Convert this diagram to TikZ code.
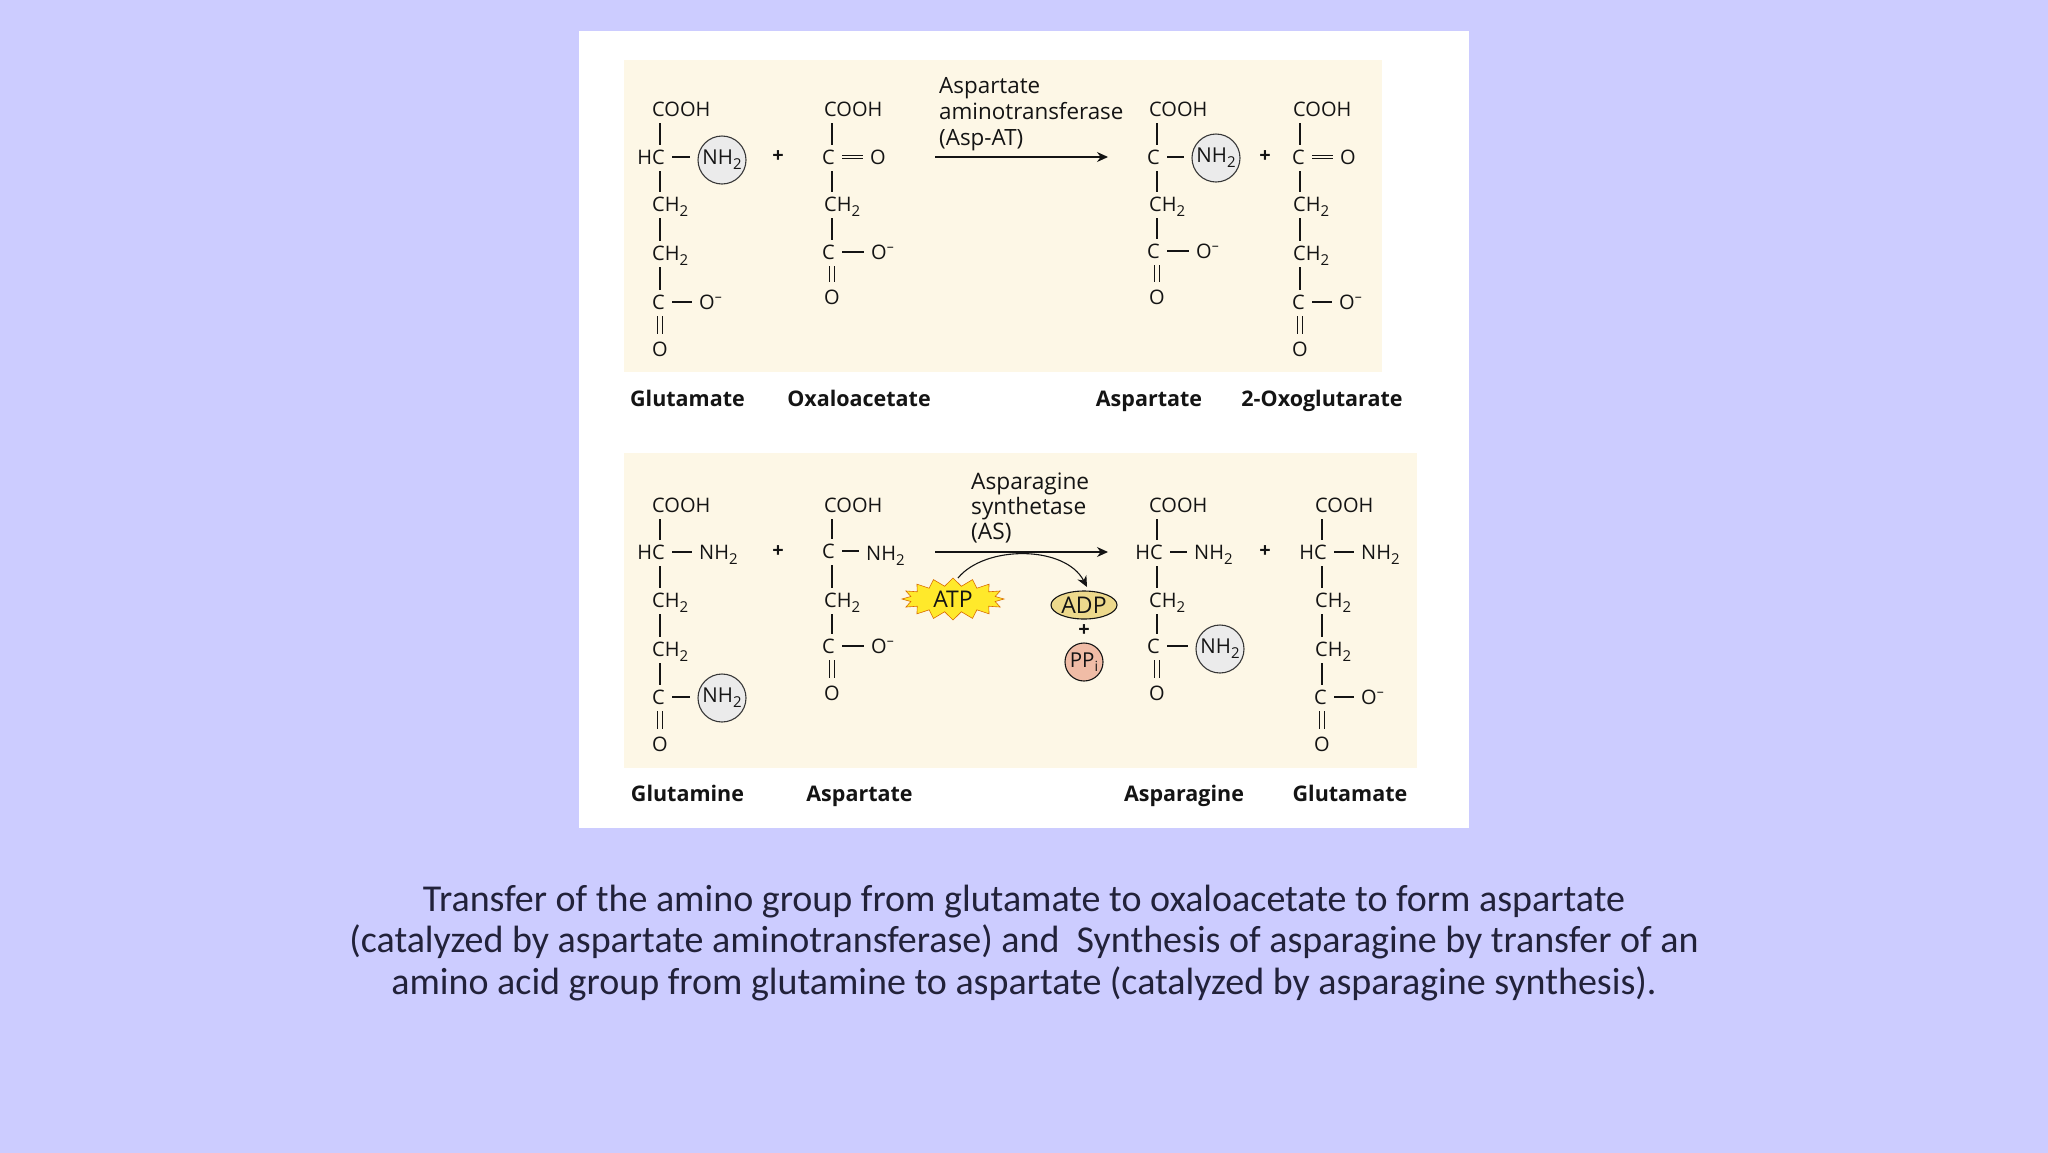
\documentclass[tikz,border=0pt]{standalone}
\usepackage{fontspec}
\setmainfont{Open Sans}
\newfontfamily\capfont{Carlito}
\usetikzlibrary{shapes.geometric,shapes.symbols,arrows.meta,positioning}

\definecolor{slide}{HTML}{CCCCFF}
\definecolor{cream}{HTML}{FDF7E6}
\definecolor{ink}{HTML}{141414}
\definecolor{capink}{HTML}{22223A}
\definecolor{adpfill}{HTML}{EDD98C}
\definecolor{ppifill}{HTML}{F0BCA6}
\definecolor{atpfill}{HTML}{FFE92B}

\tikzset{
	atom/.style={inner sep=0pt, text=ink, font=\fontsize{20}{22}\selectfont, text height=14pt, text depth=0pt},
	atomw/.style={atom, anchor=west},
	atome/.style={atom, anchor=east},
	name label/.style={inner sep=0pt, text=ink, font=\fontsize{21.5}{24}\selectfont\bfseries, text height=15pt, text depth=5pt},
	enzyme/.style={inner sep=0pt, anchor=west, align=left, text=ink, font=\fontsize{22.4}{25.8}\selectfont},
	bond/.style={draw=ink, line width=1.1pt, shorten <=7pt, shorten >=5pt},
	hbond/.style={draw=ink, line width=1.1pt, shorten <=7pt, shorten >=7pt},
	hdouble/.style={hbond, double=cream, double distance=2.6pt, line width=1pt},
	vdouble/.style={draw=ink, line width=1.1pt, shorten <=7pt, shorten >=8pt},
	amino/.style={circle, draw=ink!85, line width=1.1pt, fill=black!8, inner sep=-4pt, minimum size=48pt, text=ink, font=\fontsize{20.5}{22}\selectfont, text height=14pt, text depth=6pt},
	plus/.style={inner sep=0pt, text=ink, font=\fontsize{20}{22}\selectfont\bfseries},
	react/.style={draw=ink, line width=1.1pt, -{Stealth[length=11pt,width=10pt]}}
}

\newcommand{\subtwo}{\raisebox{-5pt}{\fontsize{15}{15}\selectfont 2}}
\newcommand{\Ctwo}{CH\subtwo}
\newcommand{\Ntwo}{NH\subtwo}
\newcommand{\Ominus}{O\textsuperscript{–}}
\newcommand{\vbonds}[2]{\foreach \a/\b in {#2} \draw[bond] (#1\a.south -| #1x) -- (#1\b.north -| #1x);}
\newcommand{\vdbond}[3]{\foreach \s in {-2.3pt,2.3pt} \draw[vdouble, transform canvas={xshift=\s}] (#1.south -| #3) -- (#2.north -| #3);}

\begin{document}
\begin{tikzpicture}[x=1pt,y=-1pt]
	\useasboundingbox (0,0) rectangle (2048,1152);
	\fill[slide] (-2,-2) rectangle (2050,1154);
	\fill[white] (579,31) rectangle (1469,828);
	\fill[cream] (624,60) rectangle (1382,372);
	\fill[cream] (624,453) rectangle (1417,768);

	\coordinate (ax) at (660,0);
	\node[atomw] (a1) at (652,109) {COOH};
	\node[atome] (a2) at (665,157) {HC};
	\node[atomw] (a3) at (652,204) {\Ctwo};
	\node[atomw] (a4) at (652,253) {\Ctwo};
	\node[atome] (a5) at (665,302) {C};
	\node[atom] (a6) at (660,349) {O};
	\node[amino] (an) at (722,160) {\Ntwo};
	\node[atomw] (ao) at (699,302) {\Ominus};
	\vbonds{a}{1/2,2/3,3/4,4/5}
	\vdbond{a5}{a6}{ax}
	\draw[hbond] (a2.east) -- (a2.east -| an.west);
	\draw[hbond] (a5.east) -- (ao.west);

	\node[plus] (p1) at (778,157) {+};

	\coordinate (bx) at (832,0);
	\node[atomw] (b1) at (824,109) {COOH};
	\node[atome] (b2) at (835,157) {C};
	\node[atomw] (b3) at (824,204) {\Ctwo};
	\node[atome] (b4) at (835,252) {C};
	\node[atom] (b5) at (832,297) {O};
	\node[atomw] (bo) at (870,157) {O};
	\node[atomw] (bm) at (871,252) {\Ominus};
	\vbonds{b}{1/2,2/3,3/4}
	\vdbond{b4}{b5}{bx}
	\draw[hdouble] (b2.east) -- (bo.west);
	\draw[hbond] (b4.east) -- (bm.west);

	\node[enzyme] (e1) at (939,114.3) {Aspartate\\aminotransferase\\(Asp-AT)};
	\coordinate (e1s) at (935,157);
	\coordinate (e1t) at (1108,157);
	\draw[react] (e1s) -- (e1t);

	\coordinate (cx) at (1157,0);
	\node[atomw] (c1) at (1149,109) {COOH};
	\node[atome] (c2) at (1160,157) {C};
	\node[atomw] (c3) at (1149,204) {\Ctwo};
	\node[atome] (c4) at (1160,251) {C};
	\node[atom] (c5) at (1157,297) {O};
	\node[amino] (cn) at (1216,158) {\Ntwo};
	\node[atomw] (co) at (1196,251) {\Ominus};
	\vbonds{c}{1/2,2/3,3/4}
	\vdbond{c4}{c5}{cx}
	\draw[hbond] (c2.east) -- (c2.east -| cn.west);
	\draw[hbond] (c4.east) -- (co.west);

	\node[plus] (p2) at (1265,157) {+};

	\coordinate (dx) at (1300,0);
	\node[atomw] (d1) at (1293,109) {COOH};
	\node[atome] (d2) at (1305,157) {C};
	\node[atomw] (d3) at (1293,204) {\Ctwo};
	\node[atomw] (d4) at (1293,253) {\Ctwo};
	\node[atome] (d5) at (1305,302) {C};
	\node[atom] (d6) at (1300,349) {O};
	\node[atomw] (do) at (1340,157) {O};
	\node[atomw] (dm) at (1339,302) {\Ominus};
	\vbonds{d}{1/2,2/3,3/4,4/5}
	\vdbond{d5}{d6}{dx}
	\draw[hdouble] (d2.east) -- (do.west);
	\draw[hbond] (d5.east) -- (dm.west);

	\node[name label] (l1) at (687.5,401.5) {Glutamate};
	\node[name label] (l2) at (859,401.5) {Oxaloacetate};
	\node[name label] (l3) at (1149,401.5) {Aspartate};
	\node[name label] (l4) at (1322,401.5) {2-Oxoglutarate};

	\coordinate (fx) at (660,0);
	\node[atomw] (f1) at (652,505) {COOH};
	\node[atome] (f2) at (665,552) {HC};
	\node[atomw] (f3) at (652,600) {\Ctwo};
	\node[atomw] (f4) at (652,649) {\Ctwo};
	\node[atome] (f5) at (665,697) {C};
	\node[atom] (f6) at (660,744) {O};
	\node[atomw] (fn) at (699,552) {\Ntwo};
	\node[amino] (fc) at (722,698) {\Ntwo};
	\vbonds{f}{1/2,2/3,3/4,4/5}
	\vdbond{f5}{f6}{fx}
	\draw[hbond] (f2.east) -- (fn.west);
	\draw[hbond] (f5.east) -- (f5.east -| fc.west);

	\node[plus] (p3) at (778,552) {+};

	\coordinate (gx) at (832,0);
	\node[atomw] (g1) at (824,505) {COOH};
	\node[atome] (g2) at (835,551) {C};
	\node[atomw] (g3) at (824,600) {\Ctwo};
	\node[atome] (g4) at (835,646) {C};
	\node[atom] (g5) at (832,693) {O};
	\node[atomw] (gn) at (866,553) {\Ntwo};
	\node[atomw] (go) at (871,646) {\Ominus};
	\vbonds{g}{1/2,2/3,3/4}
	\vdbond{g4}{g5}{gx}
	\draw[hbond] (g2.east) -- (g2.east -| gn.west);
	\draw[hbond] (g4.east) -- (go.west);

	\node[enzyme, font=\fontsize{22.7}{25}\selectfont] (e2) at (971,508.3) {Asparagine\\synthetase\\(AS)};
	\coordinate (e2s) at (935,552);
	\coordinate (e2t) at (1108,552);
	\draw[react] (e2s) -- (e2t);

	\node[starburst, starburst points=16, starburst point height=8pt, random starburst=0, minimum width=102pt, minimum height=42pt, inner sep=0pt, draw=orange!85!black, line width=.6pt, fill=atpfill, text=ink, font=\fontsize{23}{24}\selectfont] (atp) at (953,599) {ATP};
	\node[ellipse, draw=ink, line width=1.1pt, fill=adpfill, inner sep=0pt, minimum width=66pt, minimum height=28pt, text=ink, font=\fontsize{23}{24}\selectfont] (adp) at (1084,605) {ADP};
	\node[plus] (p5) at (1084,631) {+};
	\node[circle, draw=ink, line width=1.1pt, fill=ppifill, inner sep=-3pt, minimum size=38pt, text=ink, font=\fontsize{20.5}{22}\selectfont] (ppi) at (1084,662) {PP\raisebox{-4pt}{\fontsize{14}{14}\selectfont i}};
	\coordinate (atpo) at (958,578);
	\coordinate (adpi) at (1087,587);
	\draw[draw=ink, line width=1.1pt, -{Stealth[length=11pt,width=10pt]}] (atpo) .. controls (985,545) and (1065,545) .. (adpi);

	\coordinate (hx) at (1157,0);
	\node[atomw] (h1) at (1149,505) {COOH};
	\node[atome] (h2) at (1163,552) {HC};
	\node[atomw] (h3) at (1149,600) {\Ctwo};
	\node[atome] (h4) at (1160,646) {C};
	\node[atom] (h5) at (1157,693) {O};
	\node[atomw] (hn) at (1194,552) {\Ntwo};
	\node[amino] (hc) at (1220,649) {\Ntwo};
	\vbonds{h}{1/2,2/3,3/4}
	\vdbond{h4}{h5}{hx}
	\draw[hbond] (h2.east) -- (hn.west);
	\draw[hbond] (h4.east) -- (h4.east -| hc.west);

	\node[plus] (p4) at (1265,552) {+};

	\coordinate (ix) at (1322,0);
	\node[atomw] (i1) at (1315,505) {COOH};
	\node[atome] (i2) at (1327,552) {HC};
	\node[atomw] (i3) at (1315,600) {\Ctwo};
	\node[atomw] (i4) at (1315,649) {\Ctwo};
	\node[atome] (i5) at (1327,697) {C};
	\node[atom] (i6) at (1322,744) {O};
	\node[atomw] (in) at (1361,552) {\Ntwo};
	\node[atomw] (io) at (1361,697) {\Ominus};
	\vbonds{i}{1/2,2/3,3/4,4/5}
	\vdbond{i5}{i6}{ix}
	\draw[hbond] (i2.east) -- (in.west);
	\draw[hbond] (i5.east) -- (io.west);

	\node[name label] (l5) at (687.5,796.5) {Glutamine};
	\node[name label] (l6) at (859.5,796.5) {Aspartate};
	\node[name label] (l7) at (1184,796.5) {Asparagine};
	\node[name label] (l8) at (1350,796.5) {Glutamate};

	\node[inner sep=0pt, align=center, text=capink, font=\capfont\fontsize{38}{41.5}\selectfont] (cap) at (1024,943) {Transfer of the amino group from glutamate to oxaloacetate to form aspartate\\(catalyzed by aspartate aminotransferase) and~ Synthesis of asparagine by transfer of an\\amino acid group from glutamine to aspartate (catalyzed by asparagine synthesis).};
\end{tikzpicture}
\end{document}
